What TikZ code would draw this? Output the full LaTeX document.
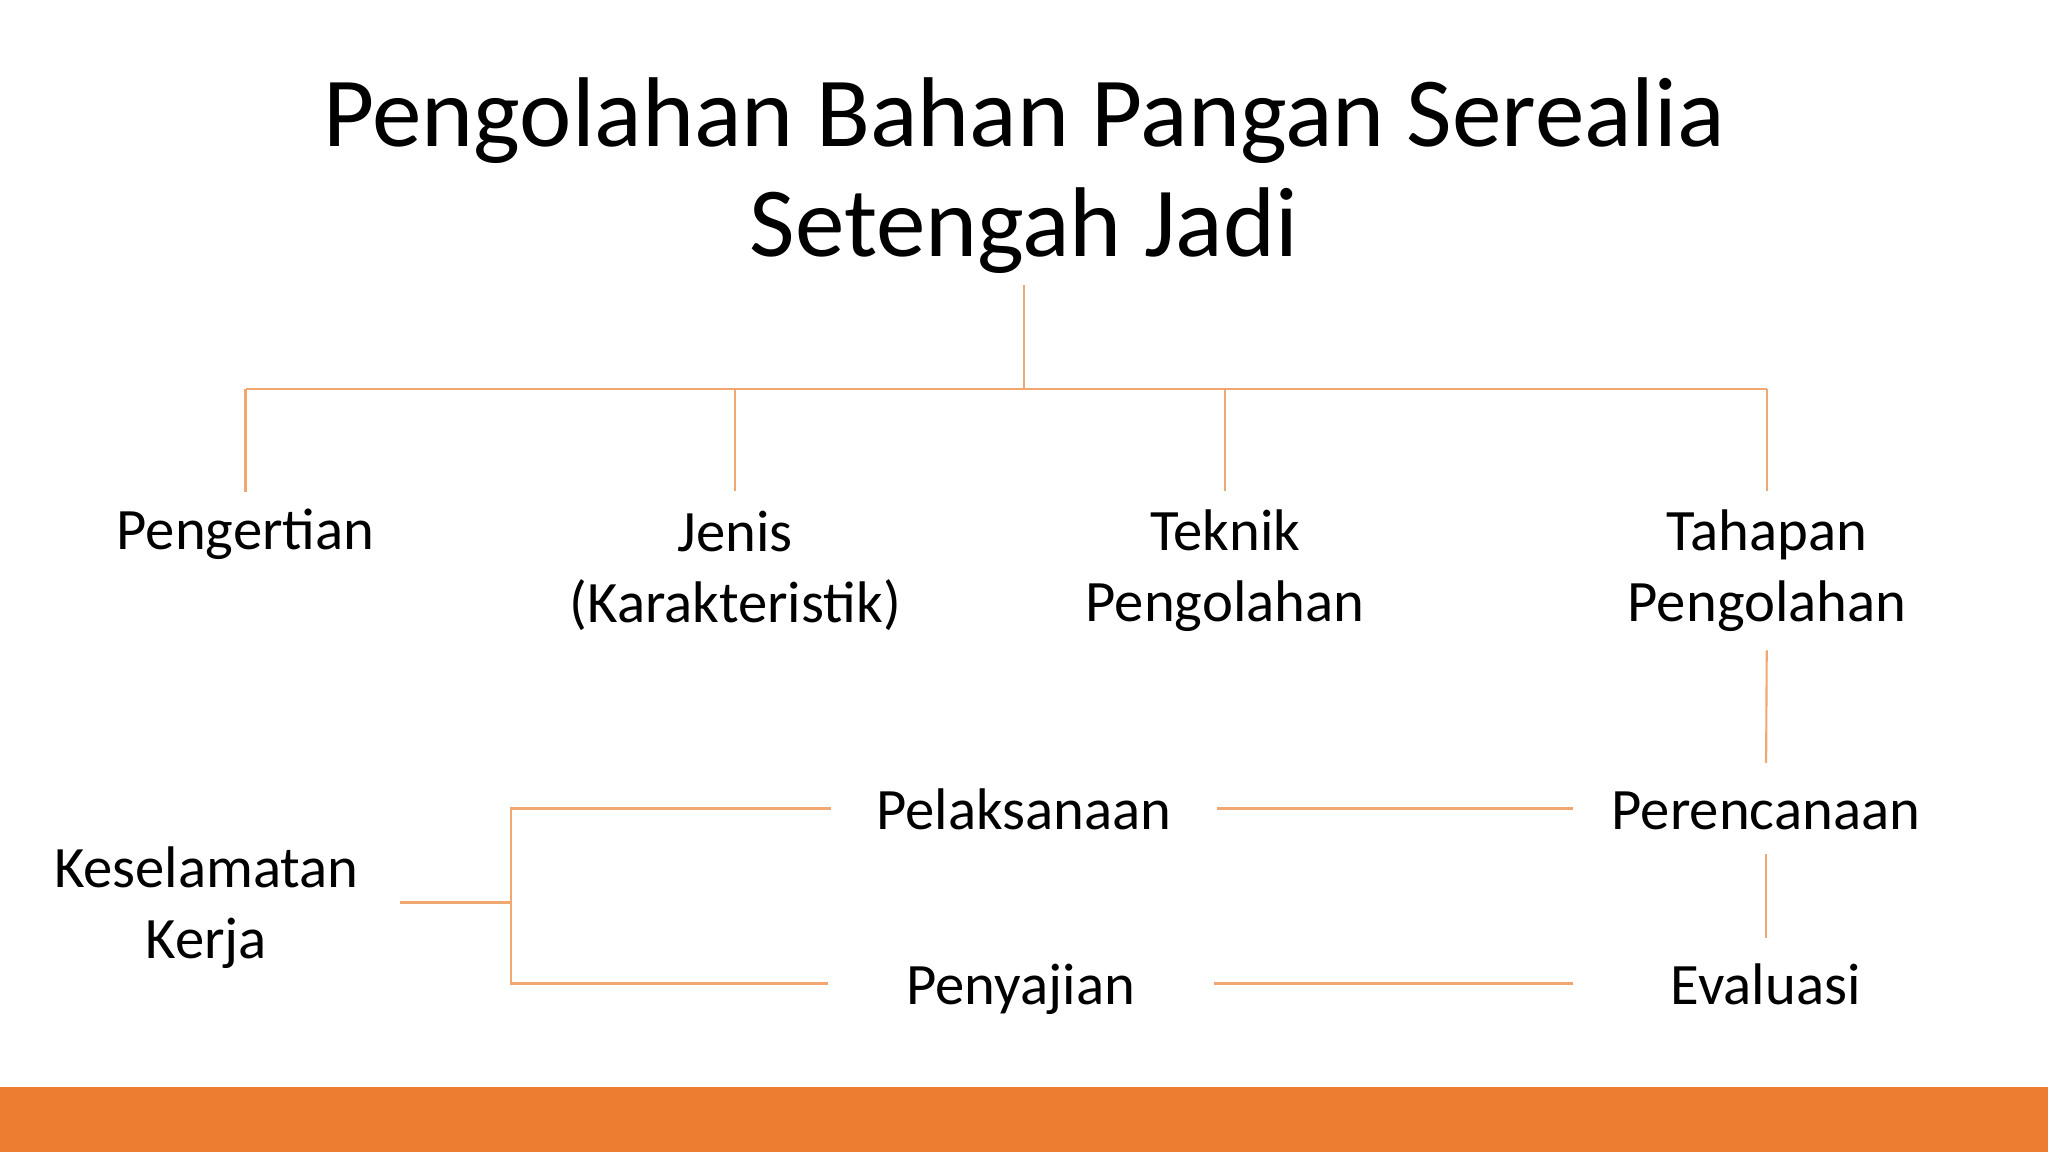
\documentclass[tikz,border=0pt]{standalone}
\usepackage{fontspec}
\setmainfont{Carlito}
\usetikzlibrary{positioning}
\definecolor{barorange}{HTML}{ED7D31}
\definecolor{linkorange}{HTML}{F0A772}

\begin{document}
\begin{tikzpicture}[x=0.01306cm, y=-0.01306cm,
    box/.style={inner sep=0pt, minimum width=3.85cm, align=center, font=\fontsize{16.7}{20.4}\selectfont},
    topbox/.style={box, minimum height=1.58cm},
    lowbox/.style={box, minimum height=0.9cm, text height=11.7pt, text depth=0pt},
    link/.style={draw=linkorange, line width=0.6pt}]
  \useasboundingbox (0,0) rectangle (1568,882);
  \fill[barorange] (0,832) rectangle (1568,882);
  \node[anchor=south, inner ysep=3pt, align=center, font=\fontsize{28.2}{31.2}\selectfont] (title) at (784,218) {Pengolahan Bahan Pangan Serealia\\Setengah Jadi};
  \coordinate (hub) at (784,298);
  \node[topbox, text depth=24.5pt] (pengertian) at (188,438) {Pengertian};
  \node[topbox] (jenis) at (563,437) {Jenis\\(Karakteristik)};
  \node[topbox] (teknik) at (938,437) {Teknik\\Pengolahan};
  \node[topbox] (tahapan) at (1353,437) {Tahapan\\Pengolahan};
  \node[lowbox] (perencanaan) at (1352,619) {Perencanaan};
  \node[lowbox] (evaluasi) at (1352,753) {Evaluasi};
  \node[lowbox] (pelaksanaan) at (784,619) {Pelaksanaan};
  \node[lowbox] (penyajian) at (781.5,753) {Penyajian};
  \node[topbox] (keselamatan) at (158,695) {Keselamatan\\Kerja};
  \coordinate (fork) at (391,691);
  \draw[link] (title) -- (hub);
  \draw[link] (hub -| pengertian) -- (hub -| tahapan);
  \foreach \n in {pengertian,jenis,teknik,tahapan}
    \draw[link] (hub -| \n) -- (\n);
  \draw[link] (tahapan) -- (perencanaan);
  \draw[link] (perencanaan) -- (evaluasi);
  \draw[link] (pelaksanaan) -- (perencanaan);
  \draw[link] (penyajian) -- (evaluasi);
  \draw[link] (fork -| keselamatan.east) -- (fork);
  \draw[link] (pelaksanaan) -| (fork) |- (penyajian);
\end{tikzpicture}
\end{document}
